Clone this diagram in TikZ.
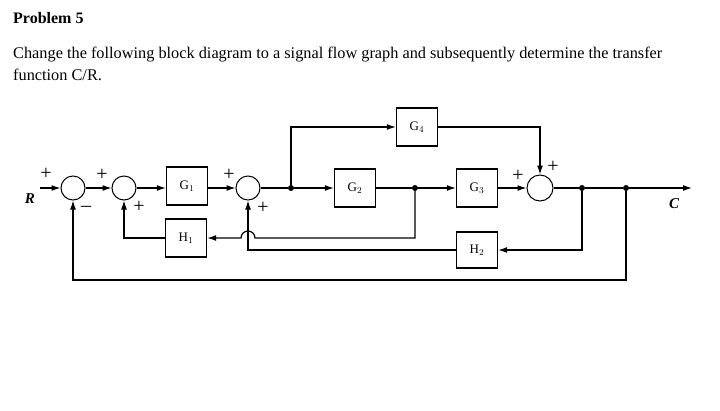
\documentclass[tikz,border=0pt]{standalone}
\usepackage{fontspec}
\setmainfont{Liberation Serif}
\usetikzlibrary{arrows.meta}
\begin{document}
\begin{tikzpicture}[x=1pt,y=-1pt,
  blk/.style={draw,line width=1.3pt,minimum width=41pt,minimum height=38pt,inner sep=0pt,font=\fontsize{13}{15}\selectfont},
  sm/.style={draw,line width=1pt,circle,minimum size=24pt,inner sep=0pt},
  ln/.style={line width=1.2pt},
  ar/.style={ln,-{Latex[length=9pt,width=6pt]}},
  dot/.style={circle,fill,inner sep=0pt,minimum size=6pt},
  sg/.style={font=\fontsize{20}{20}\selectfont}]
\useasboundingbox (0,0) rectangle (720,410);
\node[anchor=west,font=\fontsize{16}{18}\selectfont\bfseries,inner sep=0pt] (t) at (13,18) {Problem 5};
\node[anchor=west,font=\fontsize{16.3}{18}\selectfont,inner sep=0pt] (l1) at (13,55) {Change the following block diagram to a signal flow graph and subsequently determine the transfer};
\node[anchor=west,font=\fontsize{16.3}{18}\selectfont,inner sep=0pt] (l2) at (13,75) {function C/R.};
\node[sm] (s1) at (73,188) {};
\node[sm] (s2) at (124,188) {};
\node[sm] (s3) at (248,188) {};
\node[sm,minimum size=26pt] (s4) at (540,188) {};
\node[blk] (g1) at (187,186) {G$_1$};
\node[blk] (g2) at (355,188) {G$_2$};
\node[blk] (g3) at (477,188) {G$_3$};
\node[blk] (g4) at (417,127) {G$_4$};
\node[blk] (h1) at (186,238) {H$_1$};
\node[blk,minimum height=36pt] (h2) at (477,250) {H$_2$};
\node[dot] (d1) at (291,188) {};
\node[dot] (d2) at (415,188) {};
\node[dot] (d3) at (582,188) {};
\node[dot] (d4) at (626,188) {};
\coordinate (in) at (40,188);
\coordinate (out) at (692,188);
\node[font=\fontsize{15}{15}\selectfont\bfseries\itshape] (R) at (30,199) {R};
\node[font=\fontsize{15}{15}\selectfont\bfseries\itshape] (C) at (674,204) {C};
\draw[ar] (in) -- (s1);
\draw[ar] (s1) -- (s2);
\draw[ar] (s2) -- (g1.west|-s2);
\draw[ar] (g1.east|-s3) -- (s3);
\draw[ln] (s3) -- (d1);
\draw[ar] (d1) -- (g2);
\draw[ln] (g2) -- (d2);
\draw[ar] (d2) -- (g3);
\draw[ar] (g3) -- (s4);
\draw[ln] (s4) -- (d3) -- (d4);
\draw[ar] (d4) -- (out);
\draw[ar] (d1) |- (g4);
\draw[ar] (g4) -| (s4);
\draw[ar] (d2) |- (255,238) arc[start angle=0,end angle=-180,radius=7] -- (h1);
\draw[ar] (h1) -| (s2);
\draw[ar] (d3) |- (h2);
\draw[ar] (h2) -| (s3);
\draw[ar] (d4) |- (73,280) -- (s1);
\node[sg] (p1) at (46,174) {+};
\node[sg] (m1) at (86,209) {--};
\node[sg] (p2) at (102,175) {+};
\node[sg] (p3) at (139,207) {+};
\node[sg] (p4) at (229,175) {+};
\node[sg] (p5) at (263,208) {+};
\node[sg] (p6) at (518,176) {+};
\node[sg] (p7) at (553,167) {+};
\end{tikzpicture}
\end{document}
